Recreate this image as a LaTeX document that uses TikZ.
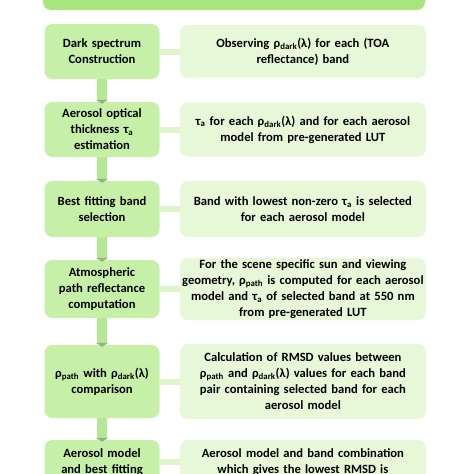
\documentclass[tikz,border=0pt]{standalone}
\usepackage{fontspec}
\setmainfont{Carlito}
\usetikzlibrary{positioning, arrows.meta}

\definecolor{bargreen}{HTML}{A8E67C}
\definecolor{stepgreen}{HTML}{C6EFA8}
\definecolor{infogreen}{HTML}{E6F8D8}
\definecolor{flowgreen}{HTML}{B4E894}
\definecolor{linkgreen}{HTML}{DDF4CC}
\definecolor{tipgreen}{HTML}{94B286}

\newcommand{\subtxt}[1]{\textsubscript{#1}}

\begin{document}
\begin{tikzpicture}[x=1pt, y=-1pt,
    stepbox/.style={fill=stepgreen, rounded corners=8pt, minimum width=115pt,
        text width=115pt, align=center, inner sep=0pt,
        font=\bfseries\fontsize{12.6}{16}\selectfont},
    infobox/.style={fill=infogreen, rounded corners=8pt, minimum width=246pt,
        text width=246pt, align=center, inner sep=0pt,
        font=\bfseries\fontsize{12.6}{16}\selectfont},
    flow/.style={line width=10pt, draw=flowgreen,
        -{Triangle[width=12pt, length=4pt, color=tipgreen]}, shorten >=-2pt},
    link/.style={line width=6pt, draw=linkgreen}]
    \useasboundingbox (0,0) rectangle (474,474);

    % Top bar
    \node[fill=bargreen, rounded corners=8pt, minimum width=382pt,
        minimum height=30pt] (topbar) at (234,-5) {};

    % Steps
    \node[stepbox, minimum height=55pt] (dark) at (102,51.5)
        {Dark spectrum\\Construction};
    \node[stepbox, minimum height=55pt] (aot) at (102,129.5)
        {Aerosol optical\\thickness τ\subtxt{a}\\estimation};
    \node[stepbox, minimum height=56pt] (band) at (102,209)
        {Best fitting band\\selection};
    \node[stepbox, minimum height=58pt] (path) at (102,289)
        {Atmospheric\\path reflectance\\computation};
    \node[stepbox, minimum height=73pt] (compare) at (102,381.5)
        {ρ\subtxt{path} with ρ\subtxt{dark}(λ)\\comparison};
    \node[stepbox, minimum height=44pt] (model) at (102,462)
        {Aerosol model\\and best fitting};

    % Descriptions
    \node[infobox, minimum height=53pt, right=20pt of dark] (darkinfo)
        {Observing ρ\subtxt{dark}(λ) for each (TOA\\reflectance) band};
    \node[infobox, minimum height=54pt, right=20pt of aot] (aotinfo)
        {τ\subtxt{a} for each ρ\subtxt{dark}(λ) and for each aerosol\\model from pre-generated LUT};
    \node[infobox, minimum height=56pt, right=20pt of band] (bandinfo)
        {Band with lowest non-zero τ\subtxt{a} is selected\\for each aerosol model};
    \node[infobox, minimum height=62pt, right=20pt of path] (pathinfo)
        {For the scene specific sun and viewing\\geometry, ρ\subtxt{path} is computed for each aerosol\\model and τ\subtxt{a} of selected band at 550 nm\\from pre-generated LUT};
    \node[infobox, minimum height=75pt, right=20pt of compare] (compareinfo)
        {Calculation of RMSD values between\\ρ\subtxt{path} and ρ\subtxt{dark}(λ) values for each band\\pair containing selected band for each\\aerosol model};
    \node[infobox, minimum height=44pt, right=20pt of model] (modelinfo)
        {Aerosol model and band combination\\which gives the lowest RMSD is};

    % Connections
    \draw[flow] (dark) -- (aot);
    \draw[flow] (aot) -- (band);
    \draw[flow] (band) -- (path);
    \draw[flow] (path) -- (compare);
    \draw[flow] (compare) -- (model);

    \draw[link] (dark) -- (darkinfo);
    \draw[link] (aot) -- (aotinfo);
    \draw[link] (band) -- (bandinfo);
    \draw[link] (path) -- (pathinfo);
    \draw[link] (compare) -- (compareinfo);
    \draw[link] (model) -- (modelinfo);
\end{tikzpicture}
\end{document}
